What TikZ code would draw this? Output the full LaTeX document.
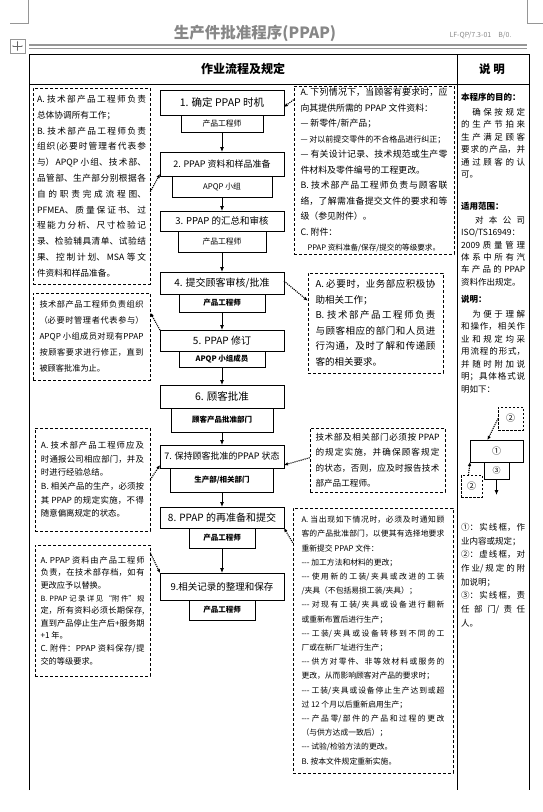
\documentclass[tikz,border=0pt]{standalone}
\usepackage{fontspec}
\setmainfont{Noto Sans CJK SC}
\usetikzlibrary{arrows.meta, positioning}
\XeTeXlinebreaklocale "zh"
\XeTeXlinebreakskip=0pt plus 3pt
\XeTeXlinebreakpenalty=10000
\setlength{\parindent}{0pt}
\hbadness=10000
\hfuzz=4pt
\definecolor{titlegray}{RGB}{135,135,135}
\definecolor{rulegray}{RGB}{150,150,150}
\newcommand{\setfs}[2]{\fontsize{#1pt}{#2pt}\selectfont}
\tikzset{
    stepbox/.style={rectangle, draw, line width=0.7pt, minimum width=124pt, inner sep=1pt, outer sep=0pt, font=\setfs{9.5}{11}},
    rolebox/.style={rectangle, draw, line width=0.7pt, inner sep=1pt, outer sep=0pt, font=\setfs{7.8}{9}},
    notebox/.style={rectangle, draw, line width=0.6pt, dash pattern=on 3pt off 2pt, inner sep=0pt, align=justify},
    coltext/.style={anchor=north west, inner sep=0pt, text width=64pt, align=justify, font=\setfs{8.5}{12.4}},
    legendbox/.style={rectangle, draw, line width=0.6pt, inner sep=0pt, outer sep=0pt, font=\setfs{9}{10}},
    flow/.style={-{Latex[length=5pt,width=4pt]}, line width=0.8pt},
    hint/.style={-{Latex[length=4pt,width=3.5pt]}, densely dotted, line width=1.1pt}
}
\begin{document}
\begin{tikzpicture}[x=1pt, y=-1pt]
    \useasboundingbox (0,0) rectangle (543,812);

    % page head
    \draw[rulegray, line width=0.5pt] (10,23) -- (28,23) -- (28,0);
    \draw[rulegray, line width=0.5pt] (527,0) -- (527,23) -- (543,23);
    \node[font=\bfseries\setfs{15.5}{17}, text=titlegray] (title) at (255,33) {生产件批准程序(PPAP)};
    \node[font=\setfs{7}{8}, text=titlegray, anchor=west] (docno) at (446,35) {LF-QP/7.3-01\quad B/0.};
    \draw[rulegray, line width=2pt] (29,45) -- (527,45);
    \draw[rulegray, line width=0.7pt] (29,48) -- (527,48);
    \draw[rulegray, line width=0.5pt] (10,39) rectangle (25,53);
    \draw[black!60, line width=0.4pt, {Stealth[length=1.5pt]}-{Stealth[length=1.5pt]}] (12,46) -- (23,46);
    \draw[black!60, line width=0.4pt, {Stealth[length=1.5pt]}-{Stealth[length=1.5pt]}] (17.5,41) -- (17.5,51);

    % table frame
    \draw[line width=0.8pt] (29,790) -- (29,54) -- (529,54) -- (529,790);
    \draw[line width=0.8pt] (29,84) -- (529,84);
    \draw[line width=0.8pt] (457,54) -- (457,790);
    \node[font=\bfseries\setfs{12}{14}] (headflow) at (243,69) {作业流程及规定};
    \node[font=\bfseries\setfs{11.5}{14}] (headnote) at (492,69) {说 明};

    % process steps
    \node[stepbox, minimum height=25pt, font=\setfs{10.5}{12}] (s1) at (222,102.5) {1. 确定 PPAP 时机};
    \node[rolebox, below=0pt of s1, minimum width=82pt, minimum height=17pt] (r1) {产品工程师};
    \node[stepbox, minimum height=24pt, font=\setfs{9}{11}] (s2) at (222,164) {2. PPAP 资料和样品准备};
    \node[rolebox, below=0pt of s2, minimum width=100pt, minimum height=21pt] (r2) {APQP 小组};
    \node[stepbox, minimum height=20pt] (s3) at (222,221) {3. PPAP 的汇总和审核};
    \node[rolebox, below=0pt of s3, minimum width=88pt, minimum height=21pt] (r3) {产品工程师};
    \node[stepbox, minimum height=22pt, font=\setfs{10}{12}] (s4) at (222,283) {4. 提交顾客审核/批准};
    \node[rolebox, below=0pt of s4, minimum width=86pt, minimum height=18pt, font=\bfseries\setfs{7.5}{9}] (r4) {产品工程师};
    \node[stepbox, minimum height=21pt, font=\setfs{10}{12}] (s5) at (222,340.5) {5. PPAP 修订};
    \node[rolebox, below=0pt of s5, minimum width=86pt, minimum height=16pt, font=\bfseries\setfs{7.5}{9}] (r5) {APQP 小组成员};
    \node[stepbox, minimum height=23pt, font=\setfs{10.5}{12}] (s6) at (222,396.5) {6. 顾客批准};
    \node[rolebox, below=0pt of s6, minimum width=102pt, minimum height=24pt, font=\bfseries\setfs{7.5}{9}] (r6) {顾客产品批准部门};
    \node[stepbox, minimum height=23pt, font=\setfs{9}{11}] (s7) at (222,456.5) {7. 保持顾客批准的PPAP 状态};
    \node[rolebox, below=0pt of s7, minimum width=103pt, minimum height=24pt, font=\bfseries\setfs{7.5}{9}] (r7) {生产部/相关部门};
    \node[stepbox, minimum height=21pt, font=\setfs{10}{12}] (s8) at (222,517.5) {8. PPAP 的再准备和提交};
    \node[rolebox, below=0pt of s8, minimum width=66pt, minimum height=20pt, font=\bfseries\setfs{7.5}{9}] (r8) {产品工程师};
    \node[stepbox, minimum height=27pt] (s9) at (222,586.5) {9.相关记录的整理和保存};
    \node[rolebox, below=0pt of s9, minimum width=66pt, minimum height=20pt, font=\bfseries\setfs{7.5}{9}] (r9) {产品工程师};

    % notes on the left
    \node[notebox, text width=109pt, minimum width=117pt, minimum height=196pt, font=\setfs{8.7}{15.8}] (a1) at (91.5,186) {%
        A.~技术部产品工程师负责\linebreak
        总体协调所有工作；\par
        B.~技术部产品工程师负责\linebreak
        组织(必要时管理者代表参\linebreak
        与）APQP 小组、技术部、\linebreak
        品管部、生产部分别根据各\linebreak
        自的职责完成流程图、\linebreak
        PFMEA、质量保证书、过\linebreak
        程能力分析、尺寸检验记\linebreak
        录、检验辅具清单、试验结\linebreak
        果、控制计划、MSA 等文\linebreak
        件资料和样品准备。};
    \node[notebox, text width=104pt, minimum width=117pt, minimum height=87pt, font=\setfs{8.2}{16}] (a2) at (91.5,336.5) {%
        技术部产品工程师负责组织\linebreak
        （必要时管理者代表参与）\linebreak
        APQP 小组成员对现有PPAP\linebreak
        按顾客要求进行修正，直到\linebreak
        被顾客批准为止。};
    \node[notebox, text width=103pt, minimum width=115pt, minimum height=103pt, font=\setfs{8.4}{13.6}] (a3) at (92.5,479.5) {%
        A.~技术部产品工程师应及\linebreak
        时通报公司相应部门，并及\linebreak
        时进行经验总结。\par
        B.~相关产品的生产，必须按\linebreak
        其 PPAP 的规定实施，不得\linebreak
        随意偏离规定的状态。};
    \node[notebox, text width=104pt, minimum width=115pt, minimum height=131pt, font=\setfs{8.2}{12.6}] (a4) at (92.5,610.5) {%
        A.~PPAP 资料由产品工程师\linebreak
        负责，在技术部存档，如有\linebreak
        更改应予以替换。\par
        {\setfs{7.3}{12.6}B.~PPAP~记录详见“附件”规}\linebreak
        定，所有资料必须长期保存,\linebreak
        直到产品停止生产后+服务期\linebreak
        +1 年。\par
        C.~附件：PPAP 资料保存/提\linebreak
        交的等级要求。};

    % notes on the right
    \node[notebox, text width=147pt, minimum width=160pt, minimum height=168pt, font=\setfs{8.9}{15.5}] (n1) at (374,170) {%
        A.~下列情况下，当顾客有要求时，应\linebreak
        向其提供所需的 PPAP 文件资料：\par
        —~新零件/新产品；\par
        {\setfs{8}{15.5}—~对以前提交零件的不合格品进行纠正；\par}
        —~有关设计记录、技术规范或生产零\linebreak
        件材料及零件编号的工程更改。\par
        B.~技术部产品工程师负责与顾客联\linebreak
        络，了解需准备提交文件的要求和等\linebreak
        级（参见附件）。\par
        C.~附件：\par
        {\setfs{7.6}{15.5}\hspace*{7pt}PPAP 资料准备/保存/提交的等级要求。\par}};
    \node[notebox, text width=120pt, minimum width=135pt, minimum height=100pt, font=\setfs{9.5}{15.5}] (n2) at (375.5,323) {%
        A.~必要时，业务部应积极协\linebreak
        助相关工作；\par
        B.~技术部产品工程师负责\linebreak
        与顾客相应的部门和人员进\linebreak
        行沟通，及时了解和传递顾\linebreak
        客的相关要求。};
    \node[notebox, text width=124pt, minimum width=135pt, minimum height=64pt, font=\setfs{8.6}{15.5}] (n3) at (377.5,460) {%
        技术部及相关部门必须按~PPAP\linebreak
        的规定实施，并确保顾客规定\linebreak
        的状态，否则，应及时报告技术\linebreak
        部产品工程师。};
    \node[notebox, text width=143pt, minimum width=160pt, minimum height=265pt, font=\setfs{7.8}{14.2}] (n4) at (373,640.5) {%
        A.~当出现如下情况时，必须及时通知顾\linebreak
        客的产品批准部门，以便其有选择地要求\linebreak
        重新提交 PPAP 文件：\par
        -{}-{}-~加工方法和材料的更改；\par
        -{}-{}-~使用新的工装/夹具或改进的工装\linebreak
        /夹具（不包括易损工装/夹具）；\par
        -{}-{}-~对现有工装/夹具或设备进行翻新\linebreak
        或重新布置后进行生产；\par
        -{}-{}-~工装/夹具或设备转移到不同的工\linebreak
        厂或在新厂址进行生产；\par
        -{}-{}-~供方对零件、非等效材料或服务的\linebreak
        更改，从而影响顾客对产品的要求时；\par
        -{}-{}-~工装/夹具或设备停止生产达到或超\linebreak
        过 12 个月以后重新启用生产；\par
        -{}-{}-~产品零/部件的产品和过程的更改\linebreak
        （与供方达成一致后）；\par
        -{}-{}-~试验/检验方法的更改。\par
        B.~按本文件规定重新实施。};

    % flow
    \draw[flow] (r1.south) -- (s2.north);
    \draw[flow] (r2.south) -- (s3.north);
    \draw[flow] (r3.south) -- (s4.north);
    \draw[flow] (r4.south) -- (s5.north);
    \draw[flow] (r5.south) -- (s6.north);
    \draw[flow] (r6.south) -- (s7.north);
    \draw[flow] (r7.south) -- (s8.north);
    \draw[flow] (r8.south) -- (s9.north);

    % notes to steps
    \draw[hint] ([yshift=-14pt]n1.north west) -- ([yshift=-17pt]s1.north east);
    \draw[hint] ([yshift=-104pt]a1.north east) -- ([yshift=-22pt]s2.north west);
    \draw[hint] ([yshift=-9pt]s4.north east) -- ([yshift=-28pt]n2.north west);
    \draw[hint] (s5.north west) -- ([yshift=-20pt]a2.north east);
    \draw[hint] ([yshift=-52pt]a3.north east) -- ([yshift=-20pt]s7.north west);
    \draw[hint] ([yshift=-30pt]n3.north west) -- ([yshift=-20pt]s7.north east);
    \draw[hint] ([yshift=-35pt]n4.north west) -- (s8.south east);
    \draw[hint] ([yshift=-8pt]a4.north east) -- (s9.north west);

    % remarks column
    \node[coltext, font=\bfseries\setfs{8.5}{12.4}] (aimhead) at (461,93) {本程序的目的：};
    \node[coltext] (aimtext) at (461,108) {%
        　确保按规定\linebreak 的生产节拍来\linebreak 生产满足顾客\linebreak
        要求的产品，并\linebreak 通过顾客的认\linebreak 可。};
    \node[coltext, font=\bfseries\setfs{8.5}{12.4}] (scopehead) at (461,202) {适用范围：};
    \node[coltext] (scopetext) at (461,216) {%
        　对本公司\linebreak \mbox{ISO/TS16949：}\linebreak 2009 质量管理\linebreak
        体系中所有汽\linebreak 车产品的 PPAP\linebreak 资料作出规定。};
    \node[coltext, font=\bfseries\setfs{8.5}{12.4}] (notehead) at (461,295) {说明：};
    \node[coltext, font=\setfs{8.5}{12.5}] (notetext) at (461,310) {%
        　为便于理解\linebreak 和操作，相关作\linebreak 业和规定均采\linebreak
        用流程的形式，\linebreak 并随时附加说\linebreak 明；具体格式说\linebreak 明如下：};

    % legend
    \node[legendbox, minimum width=53pt, minimum height=22pt] (lgstep) at (496.5,451) {①};
    \node[legendbox, below=0pt of lgstep, minimum width=25pt, minimum height=17pt, font=\setfs{8}{9}] (lgrole) {③};
    \node[legendbox, dash pattern=on 2.5pt off 1.5pt, minimum width=25pt, minimum height=23pt] (lgnotea) at (510.5,418.5) {②};
    \node[legendbox, dash pattern=on 2.5pt off 1.5pt, minimum width=21pt, minimum height=22pt] (lgnoteb) at (471.5,486) {②};
    \coordinate (lgend) at (496.5,495);
    \draw[flow] (lgrole.south) -- (lgend);
    \draw[hint] (lgnotea.west) -- ([xshift=-9pt]lgstep.north);
    \draw[hint] ([xshift=-3pt]lgnoteb.north) -- (lgstep.south west);
    \node[coltext, font=\setfs{8.5}{13.7}] (legendtext) at (461,523) {%
        ①：实线框，作\linebreak 业内容或规定；\par
        ②：虚线框，对\linebreak 作业/规定的附\linebreak 加说明；\par
        ③：实线框，责\linebreak 任部门/责任\linebreak 人。};
\end{tikzpicture}
\end{document}
